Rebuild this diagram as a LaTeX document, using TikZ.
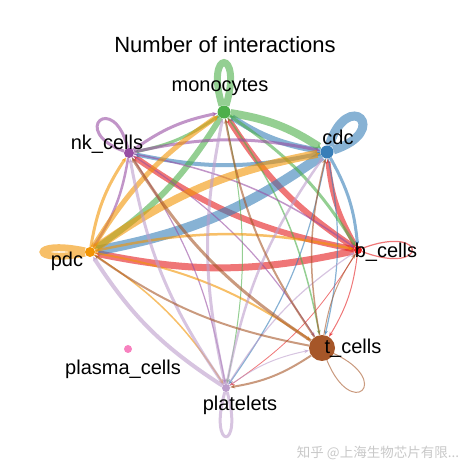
\documentclass[tikz,border=0pt]{standalone}
\usepackage{fontspec}
\setmainfont{Liberation Sans}
\newfontfamily\cjk{Noto Sans CJK SC}
\usetikzlibrary{arrows.meta}

\begin{document}
\begin{tikzpicture}[x=1pt,y=1pt,
	vtx/.style={circle,inner sep=0pt,draw=none},
	lbl/.style={font=\fontsize{20}{24}\selectfont,inner sep=0pt},
	link/.style={opacity=0.6,-{Stealth[length=5pt,width=4pt]},bend left=12},
	selfloop/.style={opacity=0.6},
	colb/.style={color={rgb,255:red,228;green,26;blue,28}},
	colc/.style={color={rgb,255:red,55;green,126;blue,184}},
	colm/.style={color={rgb,255:red,77;green,175;blue,74}},
	coln/.style={color={rgb,255:red,152;green,78;blue,163}},
	cold/.style={color={rgb,255:red,242;green,148;blue,3}},
	colx/.style={color={rgb,255:red,247;green,129;blue,191}},
	colp/.style={color={rgb,255:red,188;green,157;blue,204}},
	colt/.style={color={rgb,255:red,166;green,86;blue,40}}]
	
	\useasboundingbox (0,0) rectangle (474,474);
	
	% Cell groups
	\node [vtx,colm,fill,minimum size=13pt] (m) at (224,362) {};
	\node [vtx,colc,fill,minimum size=13pt] (c) at (327,322) {};
	\node [vtx,colb,fill,minimum size=8pt] (b) at (358,224) {};
	\node [vtx,colt,fill,minimum size=26pt] (t) at (322,126) {};
	\node [vtx,colp,fill,minimum size=8pt] (p) at (226,86) {};
	\node [vtx,colx,fill,minimum size=8pt] (x) at (128,125) {};
	\node [vtx,cold,fill,minimum size=10pt] (d) at (90,222) {};
	\node [vtx,coln,fill,minimum size=10pt] (n) at (129,321) {};
	
	% Self loops
	\draw [colm,selfloop,line width=7pt] (m) to[out=107,in=73,distance=60pt] (m);
	\draw [colc,selfloop,line width=9pt] (c) to[out=72,in=18,distance=62pt] (c);
	\draw [coln,selfloop,line width=3pt] (n) to[out=160,in=104,distance=59pt] (n);
	\draw [cold,selfloop,line width=7pt] (d) to[out=192,in=168,distance=57pt] (d);
	\draw [colb,selfloop,line width=1.2pt] (b) to[out=21,in=-21,distance=72pt] (b);
	\draw [colt,selfloop,line width=1pt] (t) to[out=-25,in=-68,distance=66pt] (t);
	\draw [colp,selfloop,line width=3pt] (p) to[out=-74,in=-106,distance=62pt] (p);
	
	% Edges: b_cells
	\draw [colb,link,line width=6pt] (b) to (m);
	\draw [colb,link,line width=5pt] (b) to (c);
	\draw [colb,link,line width=6pt] (b) to (n);
	\draw [colb,link,line width=7pt] (b) to (d);
	\draw [colb,link,line width=1pt] (b) to (t);
	\draw [colb,link,line width=0.8pt] (b) to (p);
	
	% Edges: cdc
	\draw [colc,link,line width=6pt] (c) to (m);
	\draw [colc,link,line width=4pt] (c) to (n);
	\draw [colc,link,line width=10pt] (c) to (d);
	\draw [colc,link,line width=3pt] (c) to (b);
	\draw [colc,link,line width=1.2pt] (c) to (t);
	\draw [colc,link,line width=1.2pt] (c) to (p);
	
	% Edges: monocytes
	\draw [colm,link,line width=8pt] (m) to (c);
	\draw [colm,link,line width=3pt] (m) to (n);
	\draw [colm,link,line width=6pt] (m) to (d);
	\draw [colm,link,line width=3pt] (m) to (b);
	\draw [colm,link,line width=1.5pt] (m) to (t);
	\draw [colm,link,line width=1pt] (m) to (p);
	
	% Edges: nk_cells
	\draw [coln,link,line width=3pt] (n) to (m);
	\draw [coln,link,line width=3pt] (n) to (c);
	\draw [coln,link,line width=2.5pt] (n) to (d);
	\draw [coln,link,line width=1.5pt] (n) to (b);
	\draw [coln,link,line width=1.2pt] (n) to (t);
	\draw [coln,link,line width=1.2pt] (n) to (p);
	
	% Edges: pdc
	\draw [cold,link,line width=5pt] (d) to (m);
	\draw [cold,link,line width=8pt] (d) to (c);
	\draw [cold,link,line width=3pt] (d) to (n);
	\draw [cold,link,line width=2.5pt] (d) to (b);
	\draw [cold,link,line width=2pt] (d) to (t);
	\draw [cold,link,line width=1.5pt] (d) to (p);
	
	% Edges: platelets
	\draw [colp,link,line width=3pt] (p) to (m);
	\draw [colp,link,line width=2.5pt] (p) to (c);
	\draw [colp,link,line width=3pt] (p) to (n);
	\draw [colp,link,line width=4pt] (p) to (d);
	\draw [colp,link,line width=1.2pt] (p) to (b);
	\draw [colp,link,line width=1pt] (p) to (t);
	
	% Edges: t_cells
	\draw [colt,link,line width=2pt] (t) to (m);
	\draw [colt,link,line width=1.5pt] (t) to (c);
	\draw [colt,link,line width=3pt] (t) to (n);
	\draw [colt,link,line width=2pt] (t) to (d);
	\draw [colt,link,line width=1pt] (t) to (b);
	\draw [colt,link,line width=2pt] (t) to (p);
	
	% Text boxes
	\node [lbl] (mlab) at (220,387) {monocytes};
	\node [lbl] (clab) at (338,337) {cdc};
	\node [lbl] (blab) at (386,222) {b\_cells};
	\node [lbl] (tlab) at (353,126) {t\_cells};
	\node [lbl] (plab) at (240,69) {platelets};
	\node [lbl] (xlab) at (123,105) {plasma\_cells};
	\node [lbl] (dlab) at (67,213) {pdc};
	\node [lbl] (nlab) at (107,330) {nk\_cells};
	\node [font=\fontsize{22}{26}\selectfont,inner sep=0pt] (title) at (225,429) {Number of interactions};
	\node [font=\cjk\fontsize{13.5}{16}\selectfont,text={rgb,255:red,200;green,200;blue,200},inner sep=0pt] (mark) at (378,21) {知乎 @上海生物芯片有限...};
	
\end{tikzpicture}
\end{document}
